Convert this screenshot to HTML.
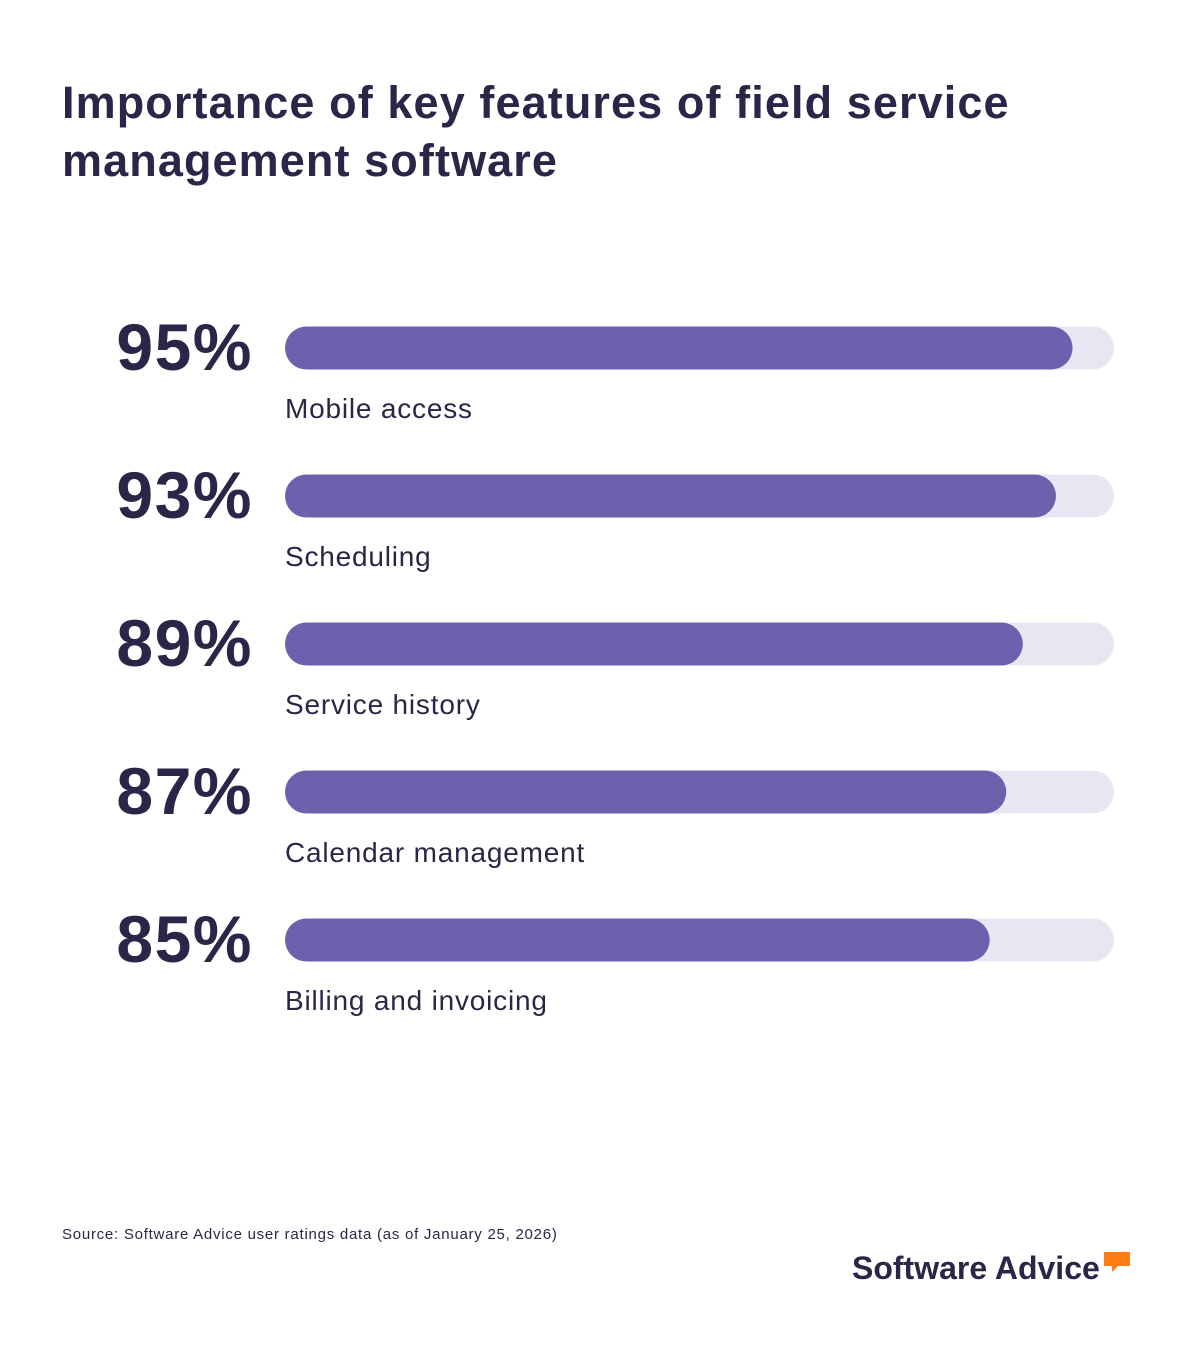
<!DOCTYPE html>
<html><head><meta charset="utf-8"><style>
body{margin:0;width:1200px;height:1350px;background:#fff;font-family:"Liberation Sans",sans-serif;color:#2b2548;position:relative;overflow:hidden}
h1{position:absolute;left:62px;top:74px;margin:0;font-size:45px;line-height:58px;font-weight:bold;letter-spacing:1.1px;width:1100px}
.src{position:absolute;left:62px;top:1226px;font-size:15px;letter-spacing:0.75px}
.logo{position:absolute;left:852px;top:1250px;font-size:32px;font-weight:bold;letter-spacing:0px}
</style></head><body>
<h1>Importance of key features of field service<br>management software</h1>
<svg id="chart" width="1200" height="1350" style="position:absolute;left:0;top:0"></svg>
<div class="src">Source: Software Advice user ratings data (as of January 25, 2026)</div>
<div class="logo">Software Advice<svg width="28" height="24" style="position:absolute;left:252px;top:2px"><path d="M0 0H26V14H14L8 20V14H0Z" fill="#ff7e14"/></svg></div>
<script>
const categories=["Mobile access","Scheduling","Service history","Calendar management","Billing and invoicing"];
const values=[95,93,89,87,85];
const svg=document.getElementById('chart');
const NS='http://www.w3.org/2000/svg';
const x0=285,trackW=829,barH=43,y0=348,step=148;
const xScale=v=>v/100*trackW;
const yScale=i=>y0+i*step;
categories.forEach((c,i)=>{
  const cy=yScale(i);
  const t=document.createElementNS(NS,'rect');
  
  
  t.setAttribute('x',x0);t.setAttribute('y',cy-barH/2);t.setAttribute('width',trackW);t.setAttribute('height',barH);t.setAttribute('rx',barH/2);t.setAttribute('fill','#e8e6f2');
  svg.appendChild(t);
  const b=document.createElementNS(NS,'rect');
  
  
  b.setAttribute('x',x0);b.setAttribute('y',cy-barH/2);b.setAttribute('width',xScale(values[i]));b.setAttribute('height',barH);b.setAttribute('rx',barH/2);b.setAttribute('fill','#6c61ac');
  svg.appendChild(b);
  const p=document.createElementNS(NS,'text');
  
  
  p.setAttribute('x',253);p.setAttribute('y',cy+22);p.setAttribute('text-anchor','end');
  p.setAttribute('font-size','66');p.setAttribute('font-weight','bold');p.setAttribute('fill','#2b2548');p.setAttribute('letter-spacing','1.5');
  p.textContent=values[i]+'%';
  svg.appendChild(p);
  const l=document.createElementNS(NS,'text');
  
  
  l.setAttribute('x',x0);l.setAttribute('y',cy+70);
  l.setAttribute('font-size','28');l.setAttribute('fill','#2b2548');l.setAttribute('letter-spacing','0.8');
  l.textContent=c;
  svg.appendChild(l);
});
</script>
</body></html>
